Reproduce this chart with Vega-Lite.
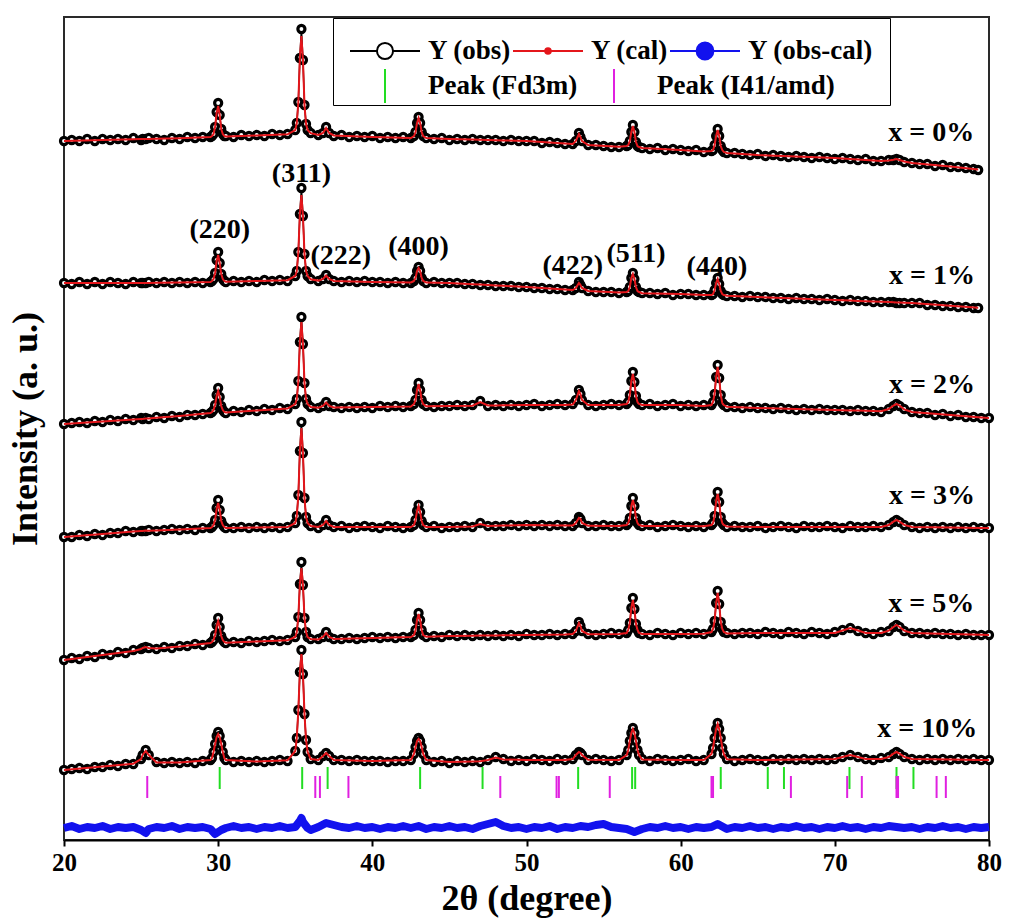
{
"$schema":"https://vega.github.io/schema/vega-lite/v6.json",
"width":925,"height":823,
"autosize":{"type":"none"},
"padding":{"left":64,"top":17,"right":31,"bottom":81},
"background":"white",
"config":{
 "view":{"stroke":"#2a2a2a","strokeWidth":2},
 "font":"Liberation Serif",
 "legend":{"orient":"none","direction":"horizontal",
  "symbolSize":4900,"clipHeight":34,"symbolStrokeWidth":2,"symbolOpacity":1,
  "labelFont":"Liberation Serif","labelFontWeight":"bold","labelFontSize":27,"labelColor":"black","labelLimit":400,"labelOffset":7,
  "columnPadding":0,"rowPadding":2}
},
"datasets":{
"obs":[
{"x":20,"a":699,"b":557,"c":416,"d":303,"e":180,"f":70},
{"x":20.5,"a":700,"b":556,"c":417,"d":303,"e":182,"f":71},
{"x":21,"a":699,"b":558,"c":418,"d":305,"e":181,"f":72},
{"x":21.5,"a":701,"b":556,"c":417,"d":304,"e":184,"f":71},
{"x":22,"a":699,"b":558,"c":419,"d":306,"e":183,"f":73},
{"x":22.5,"a":701,"b":556,"c":418,"d":305,"e":186,"f":73},
{"x":23,"a":700,"b":558,"c":420,"d":307,"e":185,"f":75},
{"x":23.5,"a":701,"b":557,"c":419,"d":307,"e":188,"f":74},
{"x":24,"a":700,"b":556,"c":421,"d":309,"e":187,"f":76},
{"x":24.5,"a":702,"b":558,"c":420,"d":308,"e":190,"f":76},
{"x":25,"a":700,"b":557,"c":422,"d":309,"e":191,"f":81},
{"x":25.1,"a":701,"b":557,"c":421,"d":309,"e":192,"f":85},
{"x":25.3,"a":701,"b":557,"c":422,"d":309,"e":193,"f":90},
{"x":25.5,"a":702,"b":558,"c":421,"d":310,"e":192,"f":85},
{"x":26,"a":701,"b":557,"c":423,"d":309,"e":191,"f":78},
{"x":26.5,"a":700,"b":558,"c":422,"d":310,"e":193,"f":77},
{"x":27,"a":702,"b":557,"c":424,"d":311,"e":192,"f":78},
{"x":27.5,"a":701,"b":558,"c":423,"d":310,"e":194,"f":77},
{"x":28,"a":703,"b":557,"c":425,"d":311,"e":194,"f":78},
{"x":28.5,"a":702,"b":558,"c":425,"d":310,"e":196,"f":77},
{"x":29,"a":703,"b":557,"c":426,"d":312,"e":195,"f":79},
{"x":29.5,"a":703,"b":558,"c":427,"d":312,"e":197,"f":80},
{"x":29.6,"a":704,"b":559,"c":428,"d":313,"e":198,"f":82},
{"x":29.7,"a":706,"b":561,"c":430,"d":315,"e":200,"f":88},
{"x":29.8,"a":713,"b":567,"c":435,"d":320,"e":205,"f":96},
{"x":29.9,"a":728,"b":580,"c":445,"d":332,"e":215,"f":104},
{"x":30,"a":737,"b":588,"c":452,"d":340,"e":222,"f":108},
{"x":30.1,"a":725,"b":577,"c":443,"d":330,"e":213,"f":104},
{"x":30.2,"a":711,"b":566,"c":434,"d":319,"e":204,"f":96},
{"x":30.3,"a":706,"b":561,"c":430,"d":315,"e":200,"f":88},
{"x":30.4,"a":704,"b":559,"c":428,"d":313,"e":198,"f":82},
{"x":30.5,"a":704,"b":558,"c":427,"d":312,"e":197,"f":80},
{"x":31,"a":703,"b":559,"c":429,"d":312,"e":198,"f":78},
{"x":31.5,"a":705,"b":558,"c":428,"d":313,"e":197,"f":79},
{"x":32,"a":704,"b":559,"c":430,"d":312,"e":199,"f":78},
{"x":32.5,"a":705,"b":558,"c":429,"d":313,"e":198,"f":79},
{"x":33,"a":704,"b":560,"c":431,"d":312,"e":199,"f":78},
{"x":33.5,"a":706,"b":559,"c":430,"d":313,"e":200,"f":79},
{"x":34,"a":705,"b":560,"c":432,"d":312,"e":199,"f":80},
{"x":34.5,"a":706,"b":559,"c":431,"d":313,"e":200,"f":79},
{"x":35,"a":710,"b":564,"c":436,"d":317,"e":203,"f":89},
{"x":35.1,"a":717,"b":569,"c":441,"d":324,"e":208,"f":102},
{"x":35.2,"a":738,"b":588,"c":459,"d":345,"e":223,"f":130},
{"x":35.3,"a":782,"b":626,"c":498,"d":389,"e":256,"f":168},
{"x":35.4,"a":811,"b":652,"c":523,"d":418,"e":278,"f":190},
{"x":35.5,"a":780,"b":624,"c":496,"d":387,"e":255,"f":166},
{"x":35.6,"a":735,"b":586,"c":457,"d":342,"e":222,"f":126},
{"x":35.7,"a":716,"b":569,"c":441,"d":323,"e":208,"f":100},
{"x":35.8,"a":710,"b":564,"c":436,"d":317,"e":203,"f":88},
{"x":36,"a":707,"b":561,"c":433,"d":314,"e":201,"f":81},
{"x":36.5,"a":705,"b":559,"c":432,"d":312,"e":201,"f":80},
{"x":36.8,"a":707,"b":561,"c":434,"d":315,"e":203,"f":84},
{"x":37,"a":713,"b":565,"c":438,"d":320,"e":208,"f":87},
{"x":37.2,"a":707,"b":561,"c":434,"d":315,"e":203,"f":84},
{"x":37.5,"a":704,"b":559,"c":433,"d":313,"e":201,"f":80},
{"x":38,"a":705,"b":558,"c":432,"d":314,"e":201,"f":80},
{"x":38.5,"a":703,"b":559,"c":433,"d":312,"e":202,"f":79},
{"x":39,"a":704,"b":558,"c":432,"d":313,"e":201,"f":80},
{"x":39.5,"a":703,"b":559,"c":433,"d":314,"e":202,"f":79},
{"x":40,"a":704,"b":558,"c":432,"d":313,"e":203,"f":79},
{"x":40.5,"a":702,"b":558,"c":434,"d":312,"e":202,"f":79},
{"x":41,"a":703,"b":557,"c":433,"d":314,"e":203,"f":78},
{"x":41.5,"a":702,"b":558,"c":434,"d":313,"e":202,"f":79},
{"x":42,"a":703,"b":557,"c":433,"d":312,"e":203,"f":79},
{"x":42.5,"a":702,"b":557,"c":434,"d":313,"e":203,"f":80},
{"x":42.7,"a":704,"b":559,"c":436,"d":315,"e":205,"f":86},
{"x":42.8,"a":708,"b":562,"c":440,"d":320,"e":210,"f":93},
{"x":42.9,"a":717,"b":569,"c":450,"d":329,"e":220,"f":99},
{"x":43,"a":723,"b":573,"c":457,"d":335,"e":227,"f":102},
{"x":43.1,"a":717,"b":569,"c":450,"d":328,"e":220,"f":99},
{"x":43.2,"a":708,"b":562,"c":440,"d":319,"e":210,"f":93},
{"x":43.3,"a":704,"b":559,"c":436,"d":315,"e":205,"f":86},
{"x":43.5,"a":702,"b":557,"c":434,"d":313,"e":203,"f":80},
{"x":44,"a":701,"b":558,"c":433,"d":314,"e":204,"f":78},
{"x":44.5,"a":702,"b":557,"c":434,"d":312,"e":203,"f":79},
{"x":45,"a":700,"b":557,"c":434,"d":313,"e":205,"f":77},
{"x":45.5,"a":701,"b":557,"c":435,"d":313,"e":204,"f":79},
{"x":46,"a":700,"b":556,"c":434,"d":314,"e":205,"f":78},
{"x":46.5,"a":701,"b":556,"c":435,"d":313,"e":204,"f":79},
{"x":47,"a":700,"b":555,"c":439,"d":317,"e":205,"f":78},
{"x":47.5,"a":700,"b":555,"c":434,"d":314,"e":204,"f":80},
{"x":48,"a":700,"b":554,"c":435,"d":314,"e":205,"f":83},
{"x":48.5,"a":699,"b":554,"c":434,"d":314,"e":204,"f":81},
{"x":49,"a":700,"b":554,"c":435,"d":315,"e":205,"f":79},
{"x":49.5,"a":699,"b":553,"c":434,"d":314,"e":204,"f":80},
{"x":50,"a":699,"b":553,"c":435,"d":315,"e":206,"f":79},
{"x":50.5,"a":699,"b":552,"c":436,"d":314,"e":205,"f":81},
{"x":51,"a":697,"b":552,"c":434,"d":315,"e":205,"f":80},
{"x":51.5,"a":698,"b":551,"c":435,"d":314,"e":206,"f":79},
{"x":52,"a":697,"b":551,"c":436,"d":315,"e":205,"f":81},
{"x":52.5,"a":696,"b":550,"c":435,"d":314,"e":206,"f":80},
{"x":53,"a":696,"b":550,"c":436,"d":314,"e":206,"f":81},
{"x":53.2,"a":699,"b":552,"c":440,"d":317,"e":209,"f":85},
{"x":53.4,"a":707,"b":558,"c":450,"d":323,"e":218,"f":88},
{"x":53.5,"a":703,"b":555,"c":446,"d":321,"e":214,"f":87},
{"x":53.6,"a":699,"b":552,"c":440,"d":317,"e":209,"f":85},
{"x":54,"a":695,"b":549,"c":435,"d":314,"e":206,"f":80},
{"x":54.5,"a":695,"b":548,"c":434,"d":314,"e":205,"f":81},
{"x":55,"a":694,"b":548,"c":435,"d":315,"e":206,"f":80},
{"x":55.5,"a":693,"b":548,"c":436,"d":314,"e":207,"f":79},
{"x":56,"a":693,"b":547,"c":435,"d":314,"e":206,"f":80},
{"x":56.5,"a":694,"b":548,"c":436,"d":315,"e":207,"f":85},
{"x":56.6,"a":695,"b":549,"c":438,"d":317,"e":210,"f":90},
{"x":56.7,"a":699,"b":553,"c":445,"d":322,"e":217,"f":99},
{"x":56.8,"a":708,"b":562,"c":459,"d":334,"e":232,"f":107},
{"x":56.9,"a":715,"b":567,"c":468,"d":342,"e":242,"f":112},
{"x":57,"a":708,"b":561,"c":458,"d":334,"e":231,"f":107},
{"x":57.1,"a":698,"b":553,"c":444,"d":322,"e":216,"f":99},
{"x":57.2,"a":694,"b":549,"c":438,"d":317,"e":210,"f":90},
{"x":57.3,"a":693,"b":548,"c":436,"d":315,"e":207,"f":85},
{"x":57.5,"a":692,"b":547,"c":435,"d":314,"e":206,"f":81},
{"x":58,"a":691,"b":547,"c":436,"d":315,"e":205,"f":79},
{"x":58.5,"a":692,"b":546,"c":434,"d":313,"e":207,"f":81},
{"x":59,"a":690,"b":547,"c":435,"d":314,"e":206,"f":80},
{"x":59.5,"a":691,"b":545,"c":436,"d":315,"e":205,"f":79},
{"x":60,"a":690,"b":546,"c":434,"d":314,"e":207,"f":80},
{"x":60.5,"a":689,"b":546,"c":435,"d":313,"e":206,"f":81},
{"x":61,"a":690,"b":545,"c":434,"d":314,"e":207,"f":79},
{"x":61.5,"a":688,"b":545,"c":435,"d":313,"e":206,"f":80},
{"x":62,"a":689,"b":545,"c":435,"d":315,"e":208,"f":86},
{"x":62.1,"a":690,"b":546,"c":438,"d":317,"e":211,"f":92},
{"x":62.2,"a":695,"b":550,"c":446,"d":324,"e":219,"f":102},
{"x":62.3,"a":704,"b":557,"c":463,"d":339,"e":237,"f":111},
{"x":62.4,"a":711,"b":562,"c":475,"d":348,"e":249,"f":117},
{"x":62.5,"a":704,"b":556,"c":462,"d":338,"e":236,"f":111},
{"x":62.6,"a":694,"b":549,"c":445,"d":323,"e":218,"f":102},
{"x":62.7,"a":690,"b":546,"c":437,"d":317,"e":211,"f":92},
{"x":62.8,"a":688,"b":545,"c":435,"d":315,"e":208,"f":86},
{"x":63,"a":687,"b":544,"c":433,"d":313,"e":207,"f":81},
{"x":63.5,"a":687,"b":544,"c":433,"d":314,"e":206,"f":79},
{"x":64,"a":686,"b":543,"c":432,"d":313,"e":207,"f":80},
{"x":64.5,"a":685,"b":544,"c":433,"d":313,"e":207,"f":81},
{"x":65,"a":686,"b":543,"c":432,"d":314,"e":206,"f":80},
{"x":65.5,"a":684,"b":543,"c":432,"d":312,"e":208,"f":79},
{"x":66,"a":685,"b":542,"c":431,"d":313,"e":207,"f":81},
{"x":66.5,"a":684,"b":542,"c":432,"d":314,"e":206,"f":80},
{"x":67,"a":683,"b":541,"c":431,"d":313,"e":208,"f":81},
{"x":67.5,"a":684,"b":542,"c":430,"d":312,"e":207,"f":80},
{"x":68,"a":683,"b":541,"c":431,"d":314,"e":206,"f":81},
{"x":68.5,"a":682,"b":541,"c":430,"d":313,"e":208,"f":80},
{"x":69,"a":683,"b":540,"c":431,"d":313,"e":207,"f":81},
{"x":69.5,"a":682,"b":541,"c":430,"d":314,"e":206,"f":80},
{"x":70,"a":681,"b":540,"c":430,"d":313,"e":208,"f":81},
{"x":70.5,"a":682,"b":539,"c":430,"d":312,"e":210,"f":83},
{"x":71,"a":681,"b":540,"c":429,"d":314,"e":212,"f":85},
{"x":71.5,"a":680,"b":539,"c":430,"d":313,"e":209,"f":83},
{"x":72,"a":681,"b":539,"c":429,"d":313,"e":207,"f":81},
{"x":72.5,"a":679,"b":538,"c":429,"d":314,"e":206,"f":80},
{"x":73,"a":679,"b":538,"c":428,"d":313,"e":208,"f":82},
{"x":73.5,"a":680,"b":538,"c":431,"d":315,"e":209,"f":83},
{"x":73.8,"a":680,"b":538,"c":434,"d":318,"e":213,"f":86},
{"x":74,"a":681,"b":537,"c":436,"d":320,"e":215,"f":88},
{"x":74.2,"a":680,"b":537,"c":434,"d":318,"e":213,"f":86},
{"x":74.5,"a":678,"b":537,"c":431,"d":315,"e":209,"f":83},
{"x":75,"a":677,"b":537,"c":428,"d":313,"e":207,"f":81},
{"x":75.5,"a":676,"b":537,"c":427,"d":312,"e":207,"f":80},
{"x":76,"a":676,"b":535,"c":427,"d":313,"e":206,"f":81},
{"x":76.5,"a":674,"b":535,"c":425,"d":312,"e":207,"f":80},
{"x":77,"a":675,"b":534,"c":426,"d":313,"e":206,"f":81},
{"x":77.5,"a":673,"b":534,"c":424,"d":312,"e":206,"f":80},
{"x":78,"a":673,"b":533,"c":425,"d":313,"e":205,"f":81},
{"x":78.5,"a":672,"b":533,"c":423,"d":312,"e":206,"f":80},
{"x":79,"a":671,"b":532,"c":423,"d":313,"e":205,"f":81},
{"x":79.3,"a":670,"b":532,"c":null,"d":null,"e":null,"f":null},
{"x":79.5,"a":null,"b":null,"c":422,"d":312,"e":205,"f":80},
{"x":80,"a":null,"b":null,"c":422,"d":312,"e":205,"f":80}
],
"cal":[
{"x":20,"a":699,"b":557,"c":416,"d":303,"e":180,"f":70},
{"x":22.5,"a":700,"b":557,"c":418.5,"d":306,"e":185,"f":73.5},
{"x":24.5,"a":700.8,"b":557,"c":420.5,"d":308.4,"e":189,"f":76.3},
{"x":25,"a":701,"b":557,"c":421,"d":309,"e":191,"f":81},
{"x":25.1,"a":701,"b":557,"c":421,"d":309,"e":192,"f":85},
{"x":25.3,"a":701,"b":557,"c":421.6,"d":309.4,"e":193,"f":89},
{"x":25.5,"a":701.1,"b":557.1,"c":421.6,"d":309.3,"e":192,"f":85},
{"x":26,"a":701.2,"b":557.2,"c":422.2,"d":309.6,"e":191.4,"f":77.5},
{"x":27.5,"a":701.8,"b":557.5,"c":424,"d":310.5,"e":193.5,"f":77.5},
{"x":29.5,"a":703,"b":558,"c":427,"d":312,"e":197,"f":80},
{"x":29.6,"a":704,"b":559,"c":428,"d":313,"e":198,"f":82},
{"x":29.7,"a":706,"b":561,"c":430,"d":315,"e":200,"f":88},
{"x":29.8,"a":713,"b":567,"c":435,"d":320,"e":205,"f":96},
{"x":29.9,"a":727,"b":579,"c":444,"d":331,"e":214,"f":103},
{"x":30,"a":734,"b":585,"c":449,"d":337,"e":219,"f":106},
{"x":30.1,"a":725,"b":577,"c":443,"d":330,"e":213,"f":103},
{"x":30.2,"a":711,"b":566,"c":434,"d":319,"e":204,"f":96},
{"x":30.3,"a":706,"b":561,"c":430,"d":315,"e":200,"f":88},
{"x":30.4,"a":704,"b":559,"c":428,"d":313,"e":198,"f":82},
{"x":30.5,"a":703.5,"b":558.2,"c":427.5,"d":312.1,"e":197.3,"f":80},
{"x":32.5,"a":704.5,"b":559,"c":429.5,"d":312.5,"e":198.5,"f":78.5},
{"x":34.5,"a":705.7,"b":559.8,"c":431.5,"d":312.9,"e":199.7,"f":79.7},
{"x":35,"a":710,"b":564,"c":436,"d":317,"e":203,"f":89},
{"x":35.1,"a":717,"b":569,"c":441,"d":324,"e":208,"f":102},
{"x":35.2,"a":738,"b":588,"c":459,"d":345,"e":223,"f":130},
{"x":35.3,"a":782,"b":626,"c":498,"d":389,"e":256,"f":168},
{"x":35.4,"a":804,"b":645,"c":518,"d":412,"e":272,"f":186},
{"x":35.5,"a":780,"b":624,"c":496,"d":387,"e":255,"f":166},
{"x":35.6,"a":735,"b":586,"c":457,"d":342,"e":222,"f":126},
{"x":35.7,"a":716,"b":569,"c":441,"d":323,"e":208,"f":100},
{"x":35.8,"a":710,"b":564,"c":436,"d":317,"e":203,"f":88},
{"x":36,"a":706.8,"b":560.8,"c":433,"d":314,"e":201,"f":81},
{"x":36.5,"a":705.1,"b":559.4,"c":432.3,"d":313,"e":200.6,"f":80},
{"x":36.8,"a":707,"b":561,"c":434,"d":315,"e":203,"f":84},
{"x":37,"a":712,"b":564.5,"c":437.5,"d":319,"e":207,"f":87},
{"x":37.2,"a":707,"b":561,"c":434,"d":315,"e":203,"f":84},
{"x":37.5,"a":704.5,"b":559,"c":432.5,"d":313,"e":201,"f":80},
{"x":40,"a":703,"b":558,"c":433,"d":313,"e":202,"f":79},
{"x":42.5,"a":702,"b":557.5,"c":433.5,"d":313,"e":203,"f":80},
{"x":42.7,"a":704,"b":559,"c":436,"d":315,"e":205,"f":86},
{"x":42.8,"a":708,"b":562,"c":440,"d":320,"e":210,"f":93},
{"x":42.9,"a":717,"b":569,"c":450,"d":329,"e":220,"f":99},
{"x":43,"a":722,"b":572,"c":456,"d":334,"e":226,"f":101},
{"x":43.1,"a":717,"b":569,"c":450,"d":328,"e":220,"f":99},
{"x":43.2,"a":708,"b":562,"c":440,"d":319,"e":210,"f":93},
{"x":43.3,"a":704,"b":559,"c":436,"d":315,"e":205,"f":86},
{"x":43.5,"a":702,"b":557.4,"c":433.7,"d":313,"e":203.2,"f":80},
{"x":45,"a":701,"b":557,"c":434,"d":313,"e":204,"f":78},
{"x":46.5,"a":700.4,"b":555.8,"c":434.3,"d":313.6,"e":204.3,"f":78.6},
{"x":47,"a":700.2,"b":555.4,"c":438,"d":316,"e":204.4,"f":78.8},
{"x":47.5,"a":700,"b":555,"c":434.5,"d":314,"e":204.5,"f":80},
{"x":48,"a":699.8,"b":554.6,"c":434.6,"d":314.2,"e":204.6,"f":82.5},
{"x":48.5,"a":699.6,"b":554.2,"c":434.7,"d":314.4,"e":204.7,"f":80.5},
{"x":50,"a":699,"b":553,"c":435,"d":315,"e":205,"f":80},
{"x":52.5,"a":696.5,"b":550.5,"c":435,"d":314.5,"e":205.5,"f":80},
{"x":53,"a":696,"b":550,"c":435.5,"d":314.6,"e":206,"f":81},
{"x":53.2,"a":699,"b":552,"c":440,"d":317,"e":209,"f":85},
{"x":53.4,"a":706,"b":557,"c":449,"d":322,"e":217,"f":88},
{"x":53.5,"a":703,"b":555,"c":446,"d":321,"e":214,"f":87},
{"x":53.6,"a":699,"b":552,"c":440,"d":317,"e":209,"f":85},
{"x":54,"a":695,"b":549,"c":435,"d":314.2,"e":205.8,"f":80.2},
{"x":56,"a":693.2,"b":547.6,"c":435,"d":314,"e":206,"f":80},
{"x":56.5,"a":694,"b":548,"c":436,"d":315,"e":207,"f":85},
{"x":56.6,"a":695,"b":549,"c":438,"d":317,"e":210,"f":90},
{"x":56.7,"a":699,"b":553,"c":445,"d":322,"e":217,"f":99},
{"x":56.8,"a":708,"b":562,"c":459,"d":334,"e":232,"f":107},
{"x":56.9,"a":714,"b":566,"c":466,"d":340,"e":240,"f":111},
{"x":57,"a":708,"b":561,"c":458,"d":334,"e":231,"f":107},
{"x":57.1,"a":698,"b":553,"c":444,"d":322,"e":216,"f":99},
{"x":57.2,"a":694,"b":549,"c":438,"d":317,"e":210,"f":90},
{"x":57.3,"a":693,"b":548,"c":436,"d":315,"e":207,"f":85},
{"x":57.5,"a":692,"b":546.8,"c":435,"d":314,"e":206,"f":80.6},
{"x":60,"a":690,"b":546,"c":435,"d":314,"e":206,"f":80},
{"x":61.5,"a":688.5,"b":545.1,"c":434.1,"d":313.7,"e":206.3,"f":80},
{"x":62,"a":689,"b":545,"c":435,"d":315,"e":208,"f":86},
{"x":62.1,"a":690,"b":546,"c":438,"d":317,"e":211,"f":92},
{"x":62.2,"a":695,"b":550,"c":446,"d":324,"e":219,"f":102},
{"x":62.3,"a":704,"b":557,"c":463,"d":339,"e":237,"f":111},
{"x":62.4,"a":710,"b":561,"c":473,"d":346,"e":247,"f":116},
{"x":62.5,"a":704,"b":556,"c":462,"d":338,"e":236,"f":111},
{"x":62.6,"a":694,"b":549,"c":445,"d":323,"e":218,"f":102},
{"x":62.7,"a":690,"b":546,"c":437,"d":317,"e":211,"f":92},
{"x":62.8,"a":688,"b":545,"c":435,"d":315,"e":208,"f":86},
{"x":63,"a":687,"b":544.2,"c":433.2,"d":313.4,"e":206.6,"f":80.7},
{"x":65,"a":685,"b":543,"c":432,"d":313,"e":207,"f":80},
{"x":67.5,"a":683.5,"b":541.5,"c":431,"d":313,"e":207,"f":80.5},
{"x":70,"a":682,"b":540,"c":430,"d":313,"e":207,"f":81},
{"x":70.5,"a":681.5,"b":539.7,"c":429.8,"d":313,"e":209.5,"f":83},
{"x":71,"a":681,"b":539.4,"c":429.6,"d":313,"e":212,"f":85},
{"x":71.5,"a":680.5,"b":539.1,"c":429.4,"d":313,"e":209.5,"f":83},
{"x":72,"a":680,"b":538.8,"c":429.2,"d":313,"e":207,"f":81},
{"x":73,"a":679,"b":538.2,"c":428.8,"d":313,"e":207,"f":81},
{"x":73.5,"a":679.5,"b":537.9,"c":431,"d":315,"e":209.4,"f":83},
{"x":73.8,"a":680.2,"b":537.7,"c":434.5,"d":318.3,"e":213,"f":86.3},
{"x":74,"a":681,"b":537.6,"c":436,"d":320,"e":215,"f":88},
{"x":74.2,"a":680,"b":537.5,"c":434.3,"d":318.3,"e":213,"f":86.3},
{"x":74.5,"a":678.5,"b":537.3,"c":430.6,"d":315.1,"e":209.4,"f":83.1},
{"x":75,"a":677,"b":537,"c":428,"d":313,"e":207,"f":81},
{"x":77.5,"a":673.5,"b":534.2,"c":425,"d":312.5,"e":206,"f":80.5},
{"x":79.3,"a":670.5,"b":532.2,"c":null,"d":null,"e":null,"f":null},
{"x":79.5,"a":null,"b":null,"c":422.6,"d":312.1,"e":205.2,"f":80.1},
{"x":80,"a":null,"b":null,"c":422,"d":312,"e":205,"f":80}
],
"diff":[
{"x":20,"v":12},{"x":20.5,"v":14},{"x":21,"v":11},{"x":21.5,"v":13},{"x":22,"v":12},{"x":22.5,"v":14},{"x":23,"v":11},{"x":23.5,"v":13},{"x":24,"v":12},{"x":24.5,"v":13},
{"x":25,"v":10},{"x":25.3,"v":7},{"x":25.5,"v":11},{"x":26,"v":13},{"x":26.5,"v":12},{"x":27,"v":14},{"x":27.5,"v":11},{"x":28,"v":13},{"x":28.5,"v":12},{"x":29,"v":13},
{"x":29.5,"v":11},{"x":29.8,"v":6},{"x":30,"v":8},{"x":30.2,"v":10},{"x":30.5,"v":12},{"x":31,"v":14},{"x":31.5,"v":12},{"x":32,"v":13},{"x":32.5,"v":11},{"x":33,"v":13},
{"x":33.5,"v":12},{"x":34,"v":14},{"x":34.5,"v":12},{"x":35,"v":13},{"x":35.3,"v":19},{"x":35.4,"v":22},{"x":35.5,"v":18},{"x":35.8,"v":12},{"x":36,"v":10},{"x":36.5,"v":13},
{"x":37,"v":17},{"x":37.5,"v":15},{"x":38,"v":13},{"x":38.5,"v":12},{"x":39,"v":14},{"x":39.5,"v":12},{"x":40,"v":13},{"x":40.5,"v":11},{"x":41,"v":13},{"x":41.5,"v":12},
{"x":42,"v":14},{"x":42.5,"v":12},{"x":43,"v":14},{"x":43.5,"v":11},{"x":44,"v":13},{"x":44.5,"v":12},{"x":45,"v":14},{"x":45.5,"v":12},{"x":46,"v":13},{"x":46.5,"v":11},
{"x":47,"v":14},{"x":47.5,"v":16},{"x":48,"v":18},{"x":48.5,"v":14},{"x":49,"v":12},{"x":49.5,"v":13},{"x":50,"v":11},{"x":50.5,"v":13},{"x":51,"v":12},{"x":51.5,"v":14},
{"x":52,"v":11},{"x":52.5,"v":13},{"x":53,"v":12},{"x":53.5,"v":14},{"x":54,"v":13},{"x":54.5,"v":15},{"x":55,"v":16},{"x":55.5,"v":13},{"x":56,"v":12},{"x":56.5,"v":11},
{"x":57,"v":8},{"x":57.5,"v":11},{"x":58,"v":13},{"x":58.5,"v":12},{"x":59,"v":14},{"x":59.5,"v":12},{"x":60,"v":13},{"x":60.5,"v":11},{"x":61,"v":13},{"x":61.5,"v":12},
{"x":62,"v":13},{"x":62.4,"v":16},{"x":63,"v":11},{"x":63.5,"v":13},{"x":64,"v":12},{"x":64.5,"v":14},{"x":65,"v":12},{"x":65.5,"v":13},{"x":66,"v":11},{"x":66.5,"v":13},
{"x":67,"v":12},{"x":67.5,"v":14},{"x":68,"v":12},{"x":68.5,"v":13},{"x":69,"v":11},{"x":69.5,"v":13},{"x":70,"v":12},{"x":70.5,"v":14},{"x":71,"v":12},{"x":71.5,"v":13},
{"x":72,"v":11},{"x":72.5,"v":13},{"x":73,"v":12},{"x":73.5,"v":14},{"x":74,"v":13},{"x":74.5,"v":12},{"x":75,"v":13},{"x":75.5,"v":11},{"x":76,"v":13},{"x":76.5,"v":12},
{"x":77,"v":14},{"x":77.5,"v":12},{"x":78,"v":13},{"x":78.5,"v":11},{"x":79,"v":13},{"x":79.5,"v":12},{"x":80,"v":13}
],
"fd":[{"x":30.1},{"x":35.45},{"x":37.1},{"x":43.1},{"x":47.15},{"x":53.35},{"x":56.85},{"x":57.05},{"x":62.6},{"x":65.65},{"x":66.7},{"x":70.95},{"x":74.0},{"x":75.1}],
"ia":[{"x":25.4},{"x":36.3},{"x":36.6},{"x":38.45},{"x":48.3},{"x":51.95},{"x":52.1},{"x":55.4},{"x":62.0},{"x":62.1},{"x":67.15},{"x":70.8},{"x":71.75},{"x":74.0},{"x":74.1},{"x":76.6},{"x":77.2}],
"labels":[
{"x":30.1,"y":610,"t":"(220)"},{"x":35.4,"y":666,"t":"(311)"},{"x":37.95,"y":584,"t":"(222)"},{"x":43.0,"y":593,"t":"(400)"},
{"x":53.0,"y":574,"t":"(422)"},{"x":57.1,"y":586,"t":"(511)"},{"x":62.35,"y":573,"t":"(440)"},
{"x":76.25,"y":707,"t":"x = 0%"},{"x":76.3,"y":564,"t":"x = 1%"},{"x":76.3,"y":455,"t":"x = 2%"},{"x":76.3,"y":344,"t":"x = 3%"},{"x":76.25,"y":236,"t":"x = 5%"},{"x":76.0,"y":111,"t":"x = 10%"}
],
"keys":[{"series":"Y (obs)"},{"series":"Y (cal)"},{"series":"Y (obs-cal)"}],
"phases":[{"phase":"Peak (Fd3m)"},{"phase":"Peak (I41/amd)"}]
},
"layer":[
{"data":{"name":"diff"},
 "mark":{"type":"line","color":"#1212ee","strokeWidth":8,"strokeJoin":"round"},
 "encoding":{
  "x":{"field":"x","type":"quantitative","scale":{"domain":[20,80],"nice":false,"zero":false},
   "axis":{"values":[20,30,40,50,60,70,80],"title":"2θ (degree)","grid":false,"labelFlush":false,
    "domainColor":"black","domainWidth":2,"tickColor":"black","tickWidth":2,"tickSize":6,
    "labelFont":"Liberation Serif","labelFontWeight":"bold","labelFontSize":25,"labelColor":"black","labelPadding":4,
    "titleFont":"Liberation Serif","titleFontWeight":"bold","titleFontSize":36,"titleColor":"black","titlePadding":6}},
  "y":{"field":"v","type":"quantitative","scale":{"domain":[0,823],"nice":false,"zero":false},
   "axis":{"title":"Intensity (a. u.)","labels":false,"ticks":false,"domain":false,"grid":false,
    "titleFont":"Liberation Serif","titleFontWeight":"bold","titleFontSize":36,"titleColor":"black","titlePadding":20}}
 }},
{"data":{"name":"fd"},
 "mark":{"type":"rule","color":"#22dd22","strokeWidth":2},
 "encoding":{
  "x":{"field":"x","type":"quantitative","scale":{"domain":[20,80],"nice":false,"zero":false}},
  "y":{"datum":51,"scale":{"domain":[0,823],"nice":false,"zero":false}},
  "y2":{"datum":73}}},
{"data":{"name":"ia"},
 "mark":{"type":"rule","color":"#e020e0","strokeWidth":2},
 "encoding":{
  "x":{"field":"x","type":"quantitative","scale":{"domain":[20,80],"nice":false,"zero":false}},
  "y":{"datum":42,"scale":{"domain":[0,823],"nice":false,"zero":false}},
  "y2":{"datum":64}}},
{"data":{"name":"obs"},
 "transform":[{"fold":["a","b","c","d","e","f"],"as":["pattern","v"]},{"filter":"isValid(datum.v)"}],
 "mark":{"type":"line","color":"black","strokeWidth":1.5},
 "encoding":{
  "x":{"field":"x","type":"quantitative","scale":{"domain":[20,80],"nice":false,"zero":false}},
  "y":{"field":"v","type":"quantitative","scale":{"domain":[0,823],"nice":false,"zero":false}},
  "detail":{"field":"pattern","type":"nominal"}}},
{"data":{"name":"obs"},
 "transform":[{"fold":["a","b","c","d","e","f"],"as":["pattern","v"]},{"filter":"isValid(datum.v)"}],
 "mark":{"type":"point","shape":"circle","filled":false,"fill":"white","fillOpacity":1,"stroke":"black","strokeWidth":3.2,"size":50,"opacity":1},
 "encoding":{
  "x":{"field":"x","type":"quantitative","scale":{"domain":[20,80],"nice":false,"zero":false}},
  "y":{"field":"v","type":"quantitative","scale":{"domain":[0,823],"nice":false,"zero":false}},
  "detail":{"field":"pattern","type":"nominal"}}},
{"data":{"name":"cal"},
 "transform":[{"fold":["a","b","c","d","e","f"],"as":["pattern","v"]},{"filter":"isValid(datum.v)"}],
 "mark":{"type":"line","color":"#e4161b","strokeWidth":2},
 "encoding":{
  "x":{"field":"x","type":"quantitative","scale":{"domain":[20,80],"nice":false,"zero":false}},
  "y":{"field":"v","type":"quantitative","scale":{"domain":[0,823],"nice":false,"zero":false}},
  "detail":{"field":"pattern","type":"nominal"}}},
{"data":{"name":"labels"},
 "mark":{"type":"text","font":"Liberation Serif","fontWeight":"bold","fontSize":28,"color":"black","align":"center","baseline":"middle"},
 "encoding":{
  "x":{"field":"x","type":"quantitative","scale":{"domain":[20,80],"nice":false,"zero":false}},
  "y":{"field":"y","type":"quantitative","scale":{"domain":[0,823],"nice":false,"zero":false}},
  "text":{"field":"t","type":"nominal"}}},
{"data":{"name":"keys"},
 "mark":{"type":"point","opacity":0},
 "encoding":{
  "stroke":{"field":"series","type":"nominal",
   "legend":{"title":" ","titleOrient":"bottom","titleFontSize":18,"titlePadding":3,"legendX":269,"legendY":1,"columns":3,"padding":16,"strokeColor":"black"},
   "scale":{"domain":["Y (obs)","Y (cal)","Y (obs-cal)"],"range":["#000000","#e4161b","#1212ee"]}},
  "fill":{"field":"series","type":"nominal",
   "legend":{"title":" ","titleOrient":"bottom","titleFontSize":18,"titlePadding":3,"legendX":269,"legendY":1,"columns":3,"padding":16,"strokeColor":"black"},
   "scale":{"domain":["Y (obs)","Y (cal)","Y (obs-cal)"],"range":["#ffffff","#e4161b","#1212ee"]}},
  "shape":{"field":"series","type":"nominal",
   "legend":{"title":" ","titleOrient":"bottom","titleFontSize":18,"titlePadding":3,"legendX":269,"legendY":1,"columns":3,"padding":16,"strokeColor":"black"},
   "scale":{"domain":["Y (obs)","Y (cal)","Y (obs-cal)"],
    "range":["M-1,0L-0.23,0M0.23,0L1,0M0.23,0A0.23,0.23,0,1,1,-0.23,0A0.23,0.23,0,1,1,0.23,0Z",
             "M-1,0L1,0M0.08,0A0.08,0.08,0,1,1,-0.08,0A0.08,0.08,0,1,1,0.08,0Z",
             "M-1,0L1,0M0.24,0A0.24,0.24,0,1,1,-0.24,0A0.24,0.24,0,1,1,0.24,0Z"]}}
 }},
{"data":{"name":"phases"},
 "mark":{"type":"point","opacity":0,"filled":false},
 "encoding":{
  "color":{"field":"phase","type":"nominal",
   "legend":{"title":null,"legendX":285,"legendY":52,"columns":2,"padding":0,"symbolType":"M0,-0.49L0,0.49"},
   "scale":{"domain":["Peak (Fd3m)","Peak (I41/amd)"],"range":["#22dd22","#e020e0"]}}
 }}
]
}
